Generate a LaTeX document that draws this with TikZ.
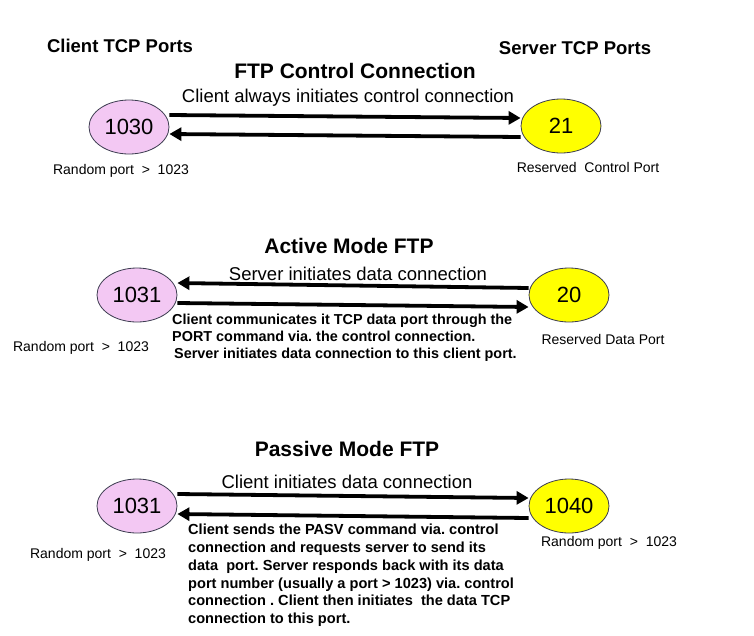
\documentclass[tikz,border=0pt]{standalone}
\usepackage{fontspec}
\setmainfont{Liberation Sans}
\usetikzlibrary{shapes.geometric,arrows.meta}
\definecolor{portpink}{RGB}{243,200,243}
\definecolor{portyellow}{RGB}{255,255,0}
\definecolor{portline}{RGB}{60,60,80}
\frenchspacing

\begin{document}
\begin{tikzpicture}[x=1pt,y=-1pt]
\tikzstyle{every node}+=[inner sep=0pt]
\tikzstyle{clientport}=[ellipse,draw=portline,line width=0.8pt,fill=portpink,minimum width=80pt,minimum height=54pt,font=\fontsize{22}{26}\selectfont]
\tikzstyle{serverport}=[clientport,fill=portyellow]
\tikzstyle{conn}=[line width=3.8pt,-{Triangle[length=12pt,width=13pt]}]
\tikzstyle{heading}=[font=\bfseries\fontsize{21}{25}\selectfont]
\tikzstyle{side}=[font=\bfseries\fontsize{18.5}{22}\selectfont]
\tikzstyle{connlabel}=[font=\fontsize{18.5}{22}\selectfont]
\tikzstyle{portnote}=[font=\fontsize{14}{17}\selectfont]
\tikzstyle{explain}=[align=left,anchor=north west]
\useasboundingbox (0,0) rectangle (754,635);

\node (clientports) [side] at (120,46) {Client TCP Ports};
\node (serverports) [side] at (575,48) {Server TCP Ports};

\node (ctrltitle) [heading] at (355,71) {FTP Control Connection};
\node (ctrllabel) [connlabel] at (348,98) {Client always initiates control connection};
\node (p1030) [clientport] at (129,127) {1030};
\node (p21) [serverport] at (561,126) {21};
\draw [conn] ([yshift=12pt]p1030.east) -- ([yshift=8pt]p21.west);
\draw [conn] ([yshift=-11pt]p21.west) -- ([yshift=-7pt]p1030.east);
\node (ctrlclient) [portnote] at (121,171) {Random port \ > \ 1023};
\node (ctrlserver) [portnote] at (588,167) {Reserved\ \ Control Port};

\node (acttitle) [heading] at (349,246) {Active Mode FTP};
\node (actlabel) [connlabel] at (358,274) {Server initiates data connection};
\node (a1031) [clientport] at (137,295) {1031};
\node (p20) [serverport] at (569,295) {20};
\draw [conn] ([yshift=7pt]p20.west) -- ([yshift=12pt]a1031.east);
\draw [conn] ([yshift=-8pt]a1031.east) -- ([yshift=-12pt]p20.west);
\node (actnote) [explain,font=\bfseries\fontsize{14.4}{17}\selectfont] at (172,314) {Client communicates it TCP data port through the\\PORT command via. the control connection.\\\hspace{2pt}Server initiates data connection to this client port.};
\node (actclient) [portnote] at (81,348) {Random port \ > \ 1023};
\node (actserver) [portnote] at (603,339) {Reserved Data Port};

\node (pasvtitle) [heading] at (347,449) {Passive Mode FTP};
\node (pasvlabel) [connlabel] at (347,482) {Client initiates data connection};
\node (b1031) [clientport] at (137,506) {1031};
\node (p1040) [serverport] at (569,506) {1040};
\draw [conn] ([yshift=12pt]b1031.east) -- ([yshift=8pt]p1040.west);
\draw [conn] ([yshift=-12pt]p1040.west) -- ([yshift=-8pt]b1031.east);
\node (pasvnote) [explain,font=\bfseries\fontsize{14.6}{17.8}\selectfont] at (188,524) {Client sends the PASV command via. control\\connection and requests server to send its\\data\ \ port. Server responds back with its data\\port number (usually a port > 1023) via. control\\connection . Client then initiates\ \ the data TCP\\connection to this port.};
\node (pasvclient) [portnote] at (98,555) {Random port \ > \ 1023};
\node (pasvserver) [portnote] at (609,543) {Random port \ > \ 1023};
\end{tikzpicture}
\end{document}
